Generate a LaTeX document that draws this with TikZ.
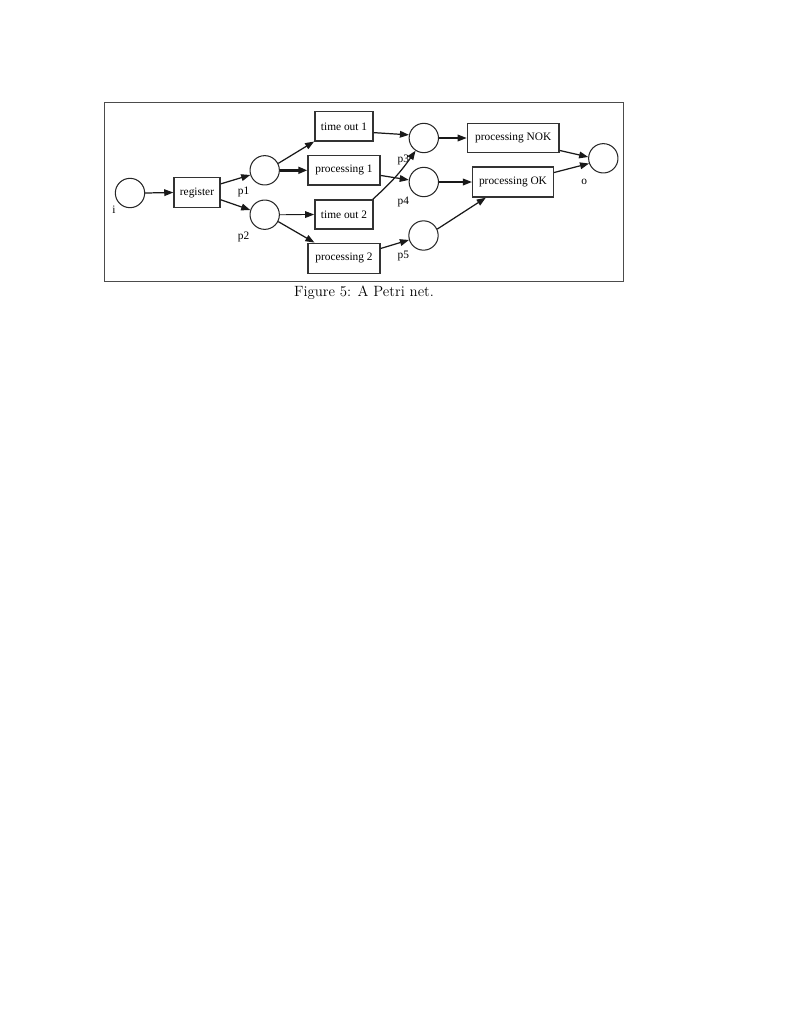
\documentclass[tikz,border=0pt]{standalone}
\usepackage{fontspec}
\setmainfont{Latin Modern Roman}
\newfontfamily\netfont{Liberation Serif}
\usetikzlibrary{arrows.meta}
\begin{document}
\begin{tikzpicture}[x=0.7737pt,y=-0.7737pt,
  place/.style={draw=black!85,line width=0.8pt,circle,minimum size=22.7pt,inner sep=0pt},
  trans/.style={draw=black!80,line width=1.1pt,rectangle,inner sep=0pt,minimum height=22.7pt,font=\netfont\fontsize{8.8}{10}\selectfont},
  lbl/.style={inner sep=0pt,font=\netfont\fontsize{8.8}{10}\selectfont},
  arr/.style={draw=black!90,line width=0.95pt,-{Triangle[length=7pt,width=5.2pt]}},
  thickarr/.style={arr,line width=1.9pt},
  thinarr/.style={arr,line width=0.65pt}]
\useasboundingbox[fill=white] (0,0) rectangle (791,1024);
\node[draw=black!70,line width=0.75pt,minimum width=401.3pt,minimum height=138.5pt,inner sep=0pt] (frame) at (364,192.2) {};
% places
\node[place] (i) at (130,193) {};
\node[place] (p1) at (264.7,170.3) {};
\node[place] (p2) at (264.7,214.7) {};
\node[place] (p3) at (423.8,138) {};
\node[place] (p4) at (423.8,182) {};
\node[place] (p5) at (423.5,235.5) {};
\node[place] (o) at (603.3,158.3) {};
% transitions
\node[trans,minimum width=35.6pt,minimum height=23.2pt] (reg) at (197,192.5) {register};
\node[trans,minimum width=45.1pt] (to1) at (344,126.3) {time out 1};
\node[trans,minimum width=55.5pt] (pr1) at (344,170.3) {processing 1};
\node[trans,minimum width=45.1pt] (to2) at (344,214.5) {time out 2};
\node[trans,minimum width=55.5pt,minimum height=23.2pt] (pr2) at (344,258.3) {processing 2};
\node[trans,minimum width=70.9pt] (nok) at (513.2,138) {processing NOK};
\node[trans,minimum width=62.4pt,minimum height=23.2pt] (ok) at (513,182) {processing OK};
% labels
\node[lbl] (li) at (114,210) {i};
\node[lbl] (lp1) at (243.5,192.3) {p1};
\node[lbl] (lp2) at (243.5,237) {p2};
\node[lbl] (lp3) at (403.3,160) {p3};
\node[lbl] (lp4) at (403.3,201.7) {p4};
\node[lbl] (lp5) at (403.3,256) {p5};
\node[lbl] (lo) at (584.3,181.7) {o};
% arcs
\draw[arr] (i.east) -- (reg.west);
\draw[arr] (reg.20) -- (p1.198);
\draw[arr] (reg.-17) -- (p2.162);
\draw[arr] (p1.27) -- (to1.207);
\draw[thickarr] (p1.east) -- (pr1.west);
\draw[thinarr] (p2.east) -- (to2.west);
\draw[arr] (p2.-27) -- (pr2.152);
\draw[arr] (to1.-12) -- (p3.168);
\draw[arr] (pr1.-8) -- (p4.172);
\draw[arr] (to2.28) to[out=42,in=235] (p3.237);
\draw[arr] (pr2.15) -- (p5.197);
\draw[arr] (p3.east) -- (nok.west);
\draw[arr] (p4.east) -- (ok.west);
\draw[arr] (p5.25) -- (ok.210);
\draw[arr] (nok.-15) -- (o.175);
\draw[arr] (ok.13) -- (o.200);
% caption
\node[anchor=base,inner sep=0pt,font=\fontsize{11.5}{14}\selectfont] (cap) at (364,296.5) {Figure 5: A Petri net.};
\end{tikzpicture}
\end{document}
